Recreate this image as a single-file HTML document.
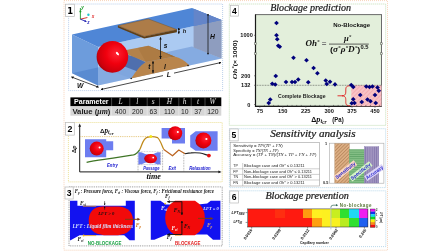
<!DOCTYPE html>
<html><head><meta charset="utf-8"><title>Blockage figure</title>
<style>
html,body{margin:0;padding:0;background:#fff;}
body{width:448px;height:252px;overflow:hidden;}
svg{display:block;filter:blur(0.35px);}
.sb{font-family:"Liberation Sans",sans-serif;font-weight:bold;}
.sr{font-family:"Liberation Sans",sans-serif;}
.si{font-family:"Liberation Serif",serif;font-style:italic;}
.ttl{stroke:#1a1a1a;stroke-width:0.22px;}
.em{stroke:currentColor;stroke-width:0.15px;}
.sbi{font-family:"Liberation Serif",serif;font-style:italic;font-weight:bold;}
</style></head><body>
<svg width="448" height="252" viewBox="0 0 448 252">
<defs>
<pattern id="hpink" width="3" height="3" patternUnits="userSpaceOnUse" patternTransform="rotate(45)"><rect width="3" height="3" fill="#f8c2c6"/><rect width="1" height="3" fill="#f4adb2"/></pattern>
<pattern id="htan" width="2.4" height="2.4" patternUnits="userSpaceOnUse" patternTransform="rotate(45)"><rect width="2.4" height="2.4" fill="#dcae84"/><rect width="0.8" height="2.4" fill="#b98a5e"/></pattern>
<pattern id="hgreen" width="2.2" height="2.2" patternUnits="userSpaceOnUse"><rect width="2.2" height="2.2" fill="#82bd84"/><rect width="2.2" height="0.7" fill="#5fa366"/></pattern>
<pattern id="hpurp" width="2.2" height="2.2" patternUnits="userSpaceOnUse"><rect width="2.2" height="2.2" fill="#a195c0"/><rect width="0.7" height="2.2" fill="#8577ad"/></pattern>
<radialGradient id="sph" cx="0.62" cy="0.4" r="0.72"><stop offset="0" stop-color="#ff2434"/><stop offset="0.45" stop-color="#f0000e"/><stop offset="0.8" stop-color="#cc000c"/><stop offset="1" stop-color="#8a0008"/></radialGradient>
<radialGradient id="hl"><stop offset="0" stop-color="#fff"/><stop offset="0.55" stop-color="#fff" stop-opacity="0.9"/><stop offset="1" stop-color="#ff8080" stop-opacity="0"/></radialGradient>
<radialGradient id="sph2" cx="0.6" cy="0.4" r="0.75"><stop offset="0" stop-color="#ff3030"/><stop offset="0.5" stop-color="#ee0008"/><stop offset="1" stop-color="#a00000"/></radialGradient>
<marker id="ah" viewBox="0 0 6 6" refX="5" refY="3" markerWidth="3.2" markerHeight="3.2" orient="auto-start-reverse"><path d="M0,0 L6,3 L0,6 z" fill="#111"/></marker>
</defs>
<rect x="0" y="0" width="448" height="252" fill="#fff"/>
<!-- outer peach frame -->
<rect x="64" y="0.6" width="323.5" height="249.6" fill="none" stroke="#f5c8a8" stroke-width="0.8" stroke-dasharray="1 1"/>
<!-- panel 1 -->
<g id="p1">
<rect x="68.6" y="4" width="154" height="86.6" fill="none" stroke="#a9c3e6" stroke-width="0.8" stroke-dasharray="1 1"/>
<!-- box: left face -->
<polygon points="72,34.5 98,47 98,85.6 72,73.2" fill="#6d9cdc"/>
<!-- right end face -->

<!-- front face -->
<polygon points="98,47 221.5,20 221.5,58.6 98,85.6" fill="#abcaf2"/>
<!-- interior floor hint -->
<polygon points="98,85.6 221.5,58.6 192,46.6 72,73.2" fill="#2f62b8" opacity="0.3"/>
<polygon points="193.6,9 221.5,20 221.5,58.6 193.6,47.6" fill="#8e9dbf"/>
<!-- top face -->
<polygon points="72,34.5 192,8 221.5,20 98,47" fill="#4f86d6"/>
<polygon points="193.6,8.8 221.5,20 193.6,26.1" fill="#6485c9"/>
<!-- lower bump -->
<polygon points="124,54 134.5,56.6 145.9,62.4 131.2,78.5 118,70" fill="#4f6fae"/>
<polygon points="114,72 124.5,66.6 137.5,71.4 131.2,78.5" fill="#7fa6de"/>
<polygon points="145.9,62 174.4,56.5 148.4,45.8 119.9,51.3" fill="#b4824a"/>
<polygon points="148.4,45.8 174.4,56.5 189.6,65.5 170,56" fill="#8f6230"/>
<path d="M131.2,78.5 Q139,66 145.9,62 L174.4,56.5 Q183,58.5 189.6,65.5 Z" fill="#b9854c"/>
<path d="M145.9,62 L174.4,56.5 L148.4,45.8 L138,48 Z" fill="#a87640" opacity="0.6"/>
<!-- upper plate -->
<polygon points="117.9,27.6 144.2,38.4 176.9,32.2 176.9,29.6 144.2,36.4 117.9,25.7" fill="#5e3f18"/>
<polygon points="117.9,25.7 148.3,18.9 176.9,29.6 144.2,36.4" fill="#ad7c48"/>
<polygon points="117.9,25.7 148.3,18.9 176.9,29.6 144.2,36.4" fill="none" stroke="#7a5526" stroke-width="0.5"/>
<!-- sphere -->
<circle cx="112.4" cy="56.9" r="15.8" fill="url(#sph)"/>
<ellipse cx="117.4" cy="53.6" rx="1.5" ry="2.8" fill="url(#hl)" transform="rotate(-40 117.4 53.6)"/>
<!-- dimension lines -->
<g stroke="#1a1a1a" stroke-width="0.8" fill="none">
<line x1="160.5" y1="37.4" x2="160.5" y2="58.2" marker-start="url(#ah)" marker-end="url(#ah)"/>
<line x1="153" y1="61.4" x2="153" y2="72.4" marker-start="url(#ah)" marker-end="url(#ah)"/>
<line x1="178.8" y1="28" x2="178.8" y2="33.6" marker-start="url(#ah)" marker-end="url(#ah)"/>
<line x1="208" y1="14.6" x2="208" y2="53.8"/>
<line x1="101" y1="89.5" x2="163" y2="75.6" marker-start="url(#ah)"/>
<line x1="174" y1="73.1" x2="221" y2="62.5" marker-end="url(#ah)"/>
<line x1="71.5" y1="77" x2="98.5" y2="87.2" marker-start="url(#ah)" marker-end="url(#ah)"/>
</g>
<g fill="#1a1a1a"><circle cx="208" cy="14.8" r="0.9"/><circle cx="208" cy="53.6" r="0.9"/><circle cx="131.2" cy="78.5" r="0.8"/><circle cx="188" cy="65.6" r="0.8"/><circle cx="153" cy="72.6" r="0.7"/><circle cx="160.5" cy="58.4" r="0.7"/></g>
<g class="sb" font-style="italic" font-size="6.6" fill="#111" text-anchor="middle">
<text x="165.6" y="47.6">s</text><text x="149.4" y="69.4">t</text><text x="165" y="68.6">l</text><text x="184.4" y="32.8" font-size="5.6">h</text>
<text x="212.4" y="38.8" font-size="6.8">H</text><text x="168.8" y="77.4" font-size="6.8">L</text><text x="80.2" y="87.6" font-size="6.8">W</text>
</g>
<!-- axes triad -->
<g stroke-width="0.9" fill="none">
<line x1="80.4" y1="19.2" x2="80.4" y2="8" stroke="#1f9b2e"/>
<line x1="80.4" y1="19.2" x2="87.4" y2="17.5" stroke="#d42020"/>
<line x1="80.4" y1="19.2" x2="85.6" y2="21.2" stroke="#1a1ab0"/>
</g>
<circle cx="80.4" cy="11.4" r="1" fill="#1f9b2e"/>
<circle cx="88.4" cy="14.7" r="1.2" fill="#20c8d0"/>
<path d="M85,20 l2,1.8 l-2.6,0.2z" fill="#1a1ab0"/>
<g class="sb" font-style="italic" font-size="4.6" text-anchor="middle"><text x="82.6" y="8.6" fill="#1f9b2e">y</text><text x="93" y="18" fill="#e03030">x</text><text x="88.4" y="23.6" fill="#2a2ab8">z</text></g>
<!-- number box -->
<rect x="65.6" y="4.2" width="9" height="12.2" fill="#fff" stroke="#b9b9b9" stroke-width="0.7"/>
<text x="70.1" y="13.6" font-family="'DejaVu Sans',sans-serif" font-weight="bold" font-size="8.4" text-anchor="middle" fill="#000">1</text>
<!-- table -->
<rect x="70.4" y="97.4" width="150.9" height="8.9" fill="#000"/>
<rect x="70.4" y="106.3" width="150.9" height="9.4" fill="#d6d6d6"/>
<g stroke-width="0.5"><line x1="111.6" y1="97.4" x2="111.6" y2="106.3" stroke="#8a8a8a"/><line x1="111.6" y1="106.3" x2="111.6" y2="115.7" stroke="#f2f2f2"/><line x1="129.8" y1="97.4" x2="129.8" y2="106.3" stroke="#8a8a8a"/><line x1="129.8" y1="106.3" x2="129.8" y2="115.7" stroke="#f2f2f2"/><line x1="147.2" y1="97.4" x2="147.2" y2="106.3" stroke="#8a8a8a"/><line x1="147.2" y1="106.3" x2="147.2" y2="115.7" stroke="#f2f2f2"/><line x1="159.5" y1="97.4" x2="159.5" y2="106.3" stroke="#8a8a8a"/><line x1="159.5" y1="106.3" x2="159.5" y2="115.7" stroke="#f2f2f2"/><line x1="178.8" y1="97.4" x2="178.8" y2="106.3" stroke="#8a8a8a"/><line x1="178.8" y1="106.3" x2="178.8" y2="115.7" stroke="#f2f2f2"/><line x1="191.2" y1="97.4" x2="191.2" y2="106.3" stroke="#8a8a8a"/><line x1="191.2" y1="106.3" x2="191.2" y2="115.7" stroke="#f2f2f2"/><line x1="205" y1="97.4" x2="205" y2="106.3" stroke="#8a8a8a"/><line x1="205" y1="106.3" x2="205" y2="115.7" stroke="#f2f2f2"/></g>
<text x="74" y="104.3" class="sb" font-size="7" fill="#fff" textLength="34.6" lengthAdjust="spacingAndGlyphs">Parameter</text>
<g class="si" font-size="7.4" fill="#e4e4e4" text-anchor="middle"><text x="120.6" y="104.4">L</text><text x="137.4" y="104.4">l</text><text x="153.2" y="104.2">s</text><text x="169.5" y="104.4">H</text><text x="184.6" y="104.4">h</text><text x="198" y="104.4">t</text><text x="212.6" y="104.4">W</text></g>
<text x="72.4" y="113.8" class="sb" font-size="7" fill="#1a1a1a" textLength="38" lengthAdjust="spacingAndGlyphs">Value (<tspan class="sbi" font-size="7.2">μm</tspan>)</text>
<g class="sr" font-size="6.8" fill="#222" text-anchor="middle"><text x="120.6" y="113.7">400</text><text x="137.6" y="113.7">200</text><text x="153.2" y="113.7">63</text><text x="169.4" y="113.7">110</text><text x="184.8" y="113.7">10</text><text x="198" y="113.7">37</text><text x="212.8" y="113.7">120</text></g>
</g>

<!-- panel 2 -->
<g id="p2">
<rect x="68.4" y="122.5" width="153.8" height="59.4" fill="none" stroke="#e6d878" stroke-width="0.8" stroke-dasharray="1 1"/>
<!-- axes -->
<path d="M79.7,125.5 V171.9 H219.5" fill="none" stroke="#1a1a1a" stroke-width="1"/>
<path d="M79.7,123.6 l-1.4,3.2 h2.8z M221.6,171.9 l-3.2,-1.4 v2.8z" fill="#1a1a1a"/>
<line x1="80.4" y1="136.6" x2="152" y2="136.6" stroke="#dcb454" stroke-width="0.8" stroke-dasharray="0.9 0.9"/>
<g stroke="#555" stroke-width="0.5" stroke-dasharray="0.8 0.8"><path d="M138,171.5 V152 H160.6 V164.6 H138" fill="none"/><line x1="162.6" y1="150" x2="162.6" y2="171.5"/><line x1="183.8" y1="152" x2="183.8" y2="171.5"/></g>
<!-- entry image -->
<path d="M85,139.2 H106.2 V141.2 H113.2 V150.2 H106.2 V157.2 H85z" fill="#6d7df0"/>
<circle cx="96.7" cy="148.6" r="7" fill="url(#sph)"/><circle cx="99.6" cy="147.4" r="1" fill="#fff"/>
<!-- passage image -->
<path d="M138.4,152.3 H160.4 V164.3 H138.4z" fill="#6d7df0"/>
<path d="M141,152 Q149.3,157.4 157.6,152z M141,164.6 Q149.3,159.6 157.6,164.6z" fill="#fff"/>
<ellipse cx="150.6" cy="158.6" rx="6.4" ry="4.7" fill="url(#sph)"/><circle cx="153.2" cy="157.6" r="0.9" fill="#fff"/>
<!-- exit image -->
<path d="M161.6,128 H185 V143.4 H172 V138.4 H161.6z" fill="#6d7df0"/>
<circle cx="175.2" cy="133.2" r="7" fill="url(#sph)"/><circle cx="177.8" cy="132" r="1" fill="#fff"/>
<!-- relaxation image -->
<path d="M190.2,135.6 L195.6,131.2 H217.6 V150.8 H195.6 L190.2,147z" fill="#6d7df0"/>
<circle cx="203.4" cy="140.4" r="8" fill="url(#sph)"/><circle cx="206.4" cy="139" r="1.1" fill="#fff"/>
<!-- curve -->
<path d="M86.6,162.4 C95,160.3 104,159.6 113,158.2 C121,156.8 127,155.8 133.5,154.8 C136.5,154.1 138,152 139.8,149.5" fill="none" stroke="#3f7526" stroke-width="1.2"/>
<path d="M139.8,149.5 C142.5,144 143,138.8 147,137.4 C150,136.4 155,136.6 157.6,137.6 C160.4,140 162,146 163.8,149.5" fill="none" stroke="#c08a1a" stroke-width="1.25"/>
<path d="M163.8,149.5 L172.5,155.8 L178.8,150 L185,153.8" fill="none" stroke="#bc6420" stroke-width="1.2" stroke-linejoin="round"/>
<path d="M185,153.8 C187,153.4 189,153 191,152.9 C195,152.6 198,152.8 200,153 C203,153.6 206,154.8 208.8,155.6" fill="none" stroke="#222" stroke-width="1.1"/>
<circle cx="150.8" cy="136.6" r="1.5" fill="#f4e61a"/>
<circle cx="208.9" cy="155.6" r="1.9" fill="#e81010"/>
<!-- labels -->
<text x="100" y="132.6" class="sbi" font-size="7.2" fill="#111"><tspan class="sb" font-style="normal" font-size="6.2">Δ</tspan>p<tspan font-size="5.6" dy="1.5">t</tspan><tspan font-size="4.6" dy="1.1">cr</tspan></text>
<text transform="translate(75.8,153) rotate(-90)" class="sbi" font-size="6.6" fill="#111"><tspan class="sb" font-style="normal" font-size="5.8">Δ</tspan>p</text>
<text x="146.4" y="179.2" class="sbi" font-size="7.2" fill="#111" textLength="14.6" lengthAdjust="spacingAndGlyphs">time</text>
<g class="sb" font-style="italic" font-size="5" fill="#2222d0">
<text x="107" y="167" textLength="10.8" lengthAdjust="spacingAndGlyphs">Entry</text><text x="143.2" y="169.8" textLength="16.2" lengthAdjust="spacingAndGlyphs">Passage</text><text x="168.4" y="169.8" textLength="7.6" lengthAdjust="spacingAndGlyphs">Exit</text><text x="189.2" y="169.8" textLength="21.4" lengthAdjust="spacingAndGlyphs">Relaxation</text></g>
<!-- number box -->
<rect x="65.6" y="122.6" width="8.7" height="12.5" fill="#fff" stroke="#b9b9b9" stroke-width="0.7"/>
<text x="70" y="132.2" class="sb" font-size="8.8" text-anchor="middle" fill="#000">2</text>
</g>

<!-- panel 3 -->
<g id="p3">
<rect x="69" y="186.9" width="153.2" height="59" fill="none" stroke="#666" stroke-width="0.7" stroke-dasharray="0.9 0.9"/>
<text x="74.8" y="192.8" class="sbi" font-size="5.5" fill="#111" textLength="139" lengthAdjust="spacingAndGlyphs">F<tspan font-size="3.7" dy="1">p</tspan><tspan dy="-1"> : Pressure force, F</tspan><tspan font-size="3.7" dy="1">vi</tspan><tspan dy="-1"> : Viscous force, F</tspan><tspan font-size="3.7" dy="1">f</tspan><tspan dy="-1"> : Frictional resistance force</tspan></text>
<!-- left shape -->
<path d="M70,200.8 H77.4 V205.7 H125.8 V200.8 H134.8 V240.2 H129.5 L124.2,235.3 H79.6 L70.6,240.2 H70z" fill="#1212f0"/>
<path d="M102,206.4 H119 Q133,208 133,220.8 Q133,233.6 118,235.2 H104 Q88.7,233.8 88.7,220.8 Q88.7,207.6 102,206.4z" fill="#f20a0a"/>
<line x1="82.9" y1="206.2" x2="96.2" y2="206.2" stroke="#f0a020" stroke-width="0.8"/>
<line x1="83.4" y1="235.6" x2="96.2" y2="235.6" stroke="#f0a020" stroke-width="0.8"/>
<circle cx="83.6" cy="235.5" r="0.9" fill="#f0c020"/>
<line x1="104.6" y1="201.2" x2="104.6" y2="205" stroke="#111" stroke-width="0.6" marker-end="url(#ah)"/>
<line x1="104.6" y1="209.6" x2="104.6" y2="206.6" stroke="#111" stroke-width="0.6" marker-end="url(#ah)"/>
<line x1="125" y1="219.3" x2="138" y2="219.3" stroke="#7c3e12" stroke-width="1"/>
<path d="M140.4,219.3 l-3,-1.5 v3z" fill="#7c3e12"/>
<text x="98.2" y="215.2" class="sbi" font-size="5" fill="#111" textLength="16.2" lengthAdjust="spacingAndGlyphs">LFT &gt; 0</text>
<text x="72.4" y="228.4" class="sbi" font-size="5.3" fill="#d4e2ff" textLength="60.6" lengthAdjust="spacingAndGlyphs">LFT : Liquid film thickness</text>
<text x="80" y="204.8" class="sbi" font-size="5.4" fill="#111">F<tspan font-size="3.2" dy="1">vi</tspan></text>
<text x="77.4" y="240.6" class="sbi" font-size="5.4" fill="#111">F<tspan font-size="3.2" dy="1">vi</tspan></text>
<text x="135.8" y="226.8" class="sbi" font-size="5.4" fill="#d07014">F<tspan font-size="3.2" dy="1">p</tspan></text>
<text x="87.8" y="245.3" class="sb" font-size="4.8" fill="#16a040" textLength="33.6" lengthAdjust="spacingAndGlyphs">NO-BLOCKAGE</text>
<!-- right shape -->
<path d="M150.8,200.7 H160.5 L165.8,204.6 H198 L207.2,203.5 L210.7,200.7 H220.4 V239.8 H213 L207.2,234.5 H167 L154.3,239.8 H150.8z" fill="#1212f0"/>
<path d="M175,200.7 H195 A19.9,19.9 0 0 1 194.8,235.2 H175.2 A19.9,19.9 0 0 1 175,200.7z" fill="#f20a0a"/>
<circle cx="165.2" cy="203.6" r="0.9" fill="#f0c020"/>
<line x1="175" y1="235" x2="181" y2="235" stroke="#f0b020" stroke-width="0.9"/>
<g stroke="#111" stroke-width="0.9" fill="none">
<line x1="181.9" y1="201.7" x2="167.4" y2="201.7" marker-end="url(#ah)"/>
<line x1="181.9" y1="201.5" x2="181.9" y2="214.8" marker-end="url(#ah)"/>
<line x1="181.9" y1="234.8" x2="181.9" y2="221" marker-end="url(#ah)"/>
<line x1="181.9" y1="234.5" x2="167.4" y2="234.5" marker-end="url(#ah)"/>
</g>
<line x1="198" y1="218.4" x2="211" y2="218.4" stroke="#7c3e12" stroke-width="1"/>
<path d="M213.4,218.4 l-3,-1.5 v3z" fill="#7c3e12"/>
<text x="165" y="197.8" class="sbi" font-size="5.4" fill="#111">F<tspan font-size="3.5" dy="1">f</tspan></text>
<text x="166.8" y="239.4" class="sbi" font-size="5.4" fill="#111">F<tspan font-size="3.5" dy="1">f</tspan></text>
<text x="161" y="210.2" class="sbi" font-size="5.4" fill="#f2f4ff">F<tspan font-size="3.5" dy="1">vi</tspan></text>
<text x="171.4" y="230.4" class="sbi" font-size="5.4" fill="#fff2f2">F<tspan font-size="3.5" dy="1">vi</tspan></text>
<text x="173.8" y="212" class="sbi" font-size="5.4" fill="#111">F<tspan font-size="3.5" dy="1">N</tspan></text>
<text x="184" y="228.2" class="sbi" font-size="5.4" fill="#111">F<tspan font-size="3.5" dy="1">N</tspan></text>
<text x="207" y="227" class="sbi" font-size="5.4" fill="#e8a868">F<tspan font-size="3.5" dy="1">p</tspan></text>
<text x="203.3" y="210.2" class="sbi" font-size="5" fill="#e4eaff" textLength="15.4" lengthAdjust="spacingAndGlyphs">LFT = 0</text>
<text x="175" y="244.8" class="sb" font-size="4.8" fill="#e01818" textLength="25.4" lengthAdjust="spacingAndGlyphs">BLOCKAGE</text>
<!-- number box -->
<rect x="65" y="187" width="8.2" height="12" fill="#fff" stroke="#b9b9b9" stroke-width="0.7"/>
<text x="69.1" y="196.4" class="sb" font-size="8.6" text-anchor="middle" fill="#000">3</text>
</g>

<!-- panel 4 -->
<g id="p4">
<rect x="229.3" y="4" width="156.4" height="121.4" fill="none" stroke="#b5d6a4" stroke-width="0.8" stroke-dasharray="1 1"/>
<rect x="230.3" y="5.3" width="8.2" height="10.8" fill="#fff" stroke="#b9b9b9" stroke-width="0.7"/>
<text x="234.4" y="13.6" class="sb" font-size="8.6" text-anchor="middle" fill="#000">4</text>
<text x="310.6" y="10.7" class="si ttl" font-size="9.4" text-anchor="middle" fill="#1a1a1a" textLength="80.8" lengthAdjust="spacingAndGlyphs">Blockage prediction</text>
<rect x="255.5" y="14.6" width="126" height="91.7" fill="#e3efdb" stroke="#6b6b6b" stroke-width="1"/>
<path d="M255.5,14.6 V106.4 H381.5" fill="none" stroke="#1a1a1a" stroke-width="1.2"/>
<rect x="351.3" y="85.3" width="30.2" height="21" fill="url(#hpink)"/>
<line x1="255.5" y1="85.3" x2="381.5" y2="85.3" stroke="#333" stroke-width="0.6" stroke-dasharray="0.8 0.8"/>
<!-- ticks -->
<g stroke="#444" stroke-width="0.6">
<line x1="254" y1="35.3" x2="255.5" y2="35.3"/><line x1="254" y1="75.8" x2="255.5" y2="75.8"/><line x1="254" y1="85.3" x2="255.5" y2="85.3"/><line x1="254" y1="104.5" x2="255.5" y2="104.5"/>
<line x1="259.8" y1="106.3" x2="259.8" y2="107.8"/><line x1="282.8" y1="106.3" x2="282.8" y2="107.8"/><line x1="305.8" y1="106.3" x2="305.8" y2="107.8"/><line x1="329" y1="106.3" x2="329" y2="107.8"/><line x1="352" y1="106.3" x2="352" y2="107.8"/><line x1="375" y1="106.3" x2="375" y2="107.8"/>
</g>
<g fill="#e3efdb" stroke="#555" stroke-width="0.5">
<rect x="254.5" y="42.8" width="2" height="1.8"/><rect x="254.5" y="52.8" width="2" height="1.8"/>
<rect x="380.5" y="42.8" width="2" height="1.8"/><rect x="380.5" y="52.8" width="2" height="1.8"/>
</g>
<g class="sb" font-size="5.6" fill="#111" text-anchor="end">
<text x="252.8" y="37.4">1000</text><text x="250.4" y="77.8">200</text><text x="250.4" y="87.3">132</text><text x="250.4" y="106.5">0</text>
</g>
<g class="sb" font-size="5.7" fill="#111" text-anchor="middle">
<text x="260" y="113.3">75</text><text x="282.8" y="113.3">150</text><text x="305.8" y="113.3">225</text><text x="329.2" y="113.3">300</text><text x="352" y="113.3">375</text><text x="375" y="113.3">450</text>
</g>
<text transform="translate(237.4,79.2) rotate(-90)" class="sbi" font-size="7" fill="#111" textLength="39" lengthAdjust="spacingAndGlyphs">Oh<tspan font-size="4.4" dy="-2.4">*</tspan><tspan dy="2.4" class="sb" font-style="normal" font-size="6">(× 1000)</tspan></text>
<text x="311.2" y="121.7" class="sbi" font-size="8.4" fill="#111"><tspan class="sb" font-style="normal" font-size="7">Δ</tspan>p<tspan font-size="6.4" dy="1.4">t</tspan><tspan font-size="5.2" dy="1.3">cr</tspan></text>
<text x="332.3" y="121.8" class="sb" font-size="7.4" fill="#111" textLength="11.4" lengthAdjust="spacingAndGlyphs">(Pa)</text>
<text x="333.2" y="27.3" class="sb" font-size="5.6" fill="#111" textLength="37" lengthAdjust="spacingAndGlyphs">No-Blockage</text>
<text x="278" y="97.9" class="sb" font-size="5" fill="#222" textLength="47.5" lengthAdjust="spacingAndGlyphs">Complete Blockage</text>
<g stroke="#333" stroke-width="0.5"><line x1="264.41" y1="104.9" x2="264.41" y2="106.3"/><line x1="269.02" y1="104.9" x2="269.02" y2="106.3"/><line x1="273.63" y1="104.9" x2="273.63" y2="106.3"/><line x1="278.24" y1="104.9" x2="278.24" y2="106.3"/><line x1="287.46" y1="104.9" x2="287.46" y2="106.3"/><line x1="292.07" y1="104.9" x2="292.07" y2="106.3"/><line x1="296.68" y1="104.9" x2="296.68" y2="106.3"/><line x1="301.29" y1="104.9" x2="301.29" y2="106.3"/><line x1="310.51" y1="104.9" x2="310.51" y2="106.3"/><line x1="315.12" y1="104.9" x2="315.12" y2="106.3"/><line x1="319.73" y1="104.9" x2="319.73" y2="106.3"/><line x1="324.34" y1="104.9" x2="324.34" y2="106.3"/><line x1="333.56" y1="104.9" x2="333.56" y2="106.3"/><line x1="338.17" y1="104.9" x2="338.17" y2="106.3"/><line x1="342.78" y1="104.9" x2="342.78" y2="106.3"/><line x1="347.39" y1="104.9" x2="347.39" y2="106.3"/><line x1="356.61" y1="104.9" x2="356.61" y2="106.3"/><line x1="361.22" y1="104.9" x2="361.22" y2="106.3"/><line x1="365.83" y1="104.9" x2="365.83" y2="106.3"/><line x1="370.44" y1="104.9" x2="370.44" y2="106.3"/><line x1="379.66" y1="104.9" x2="379.66" y2="106.3"/></g>
<!-- formula -->
<text x="305.4" y="46.2" class="sbi" font-size="9" fill="#111">Oh<tspan font-size="5" dy="-3">*</tspan></text>
<text x="321.8" y="46.4" class="sb" font-size="8" fill="#777">=</text>
<line x1="329" y1="44.1" x2="368.8" y2="44.1" stroke="#222" stroke-width="0.7"/>
<text x="344" y="40.6" class="sbi" font-size="8.6" fill="#111">μ<tspan font-size="5" dy="-3">*</tspan></text>
<text x="330" y="52" class="sbi" font-size="8" fill="#111" textLength="38.4" lengthAdjust="spacingAndGlyphs"><tspan class="sr" font-style="normal">(</tspan>σ<tspan font-size="4.6" dy="-2.8">*</tspan><tspan dy="2.8">ρ</tspan><tspan font-size="4.6" dy="-2.8">*</tspan><tspan dy="2.8">D</tspan><tspan font-size="4.6" dy="-2.8">*</tspan><tspan dy="2.8" class="sr" font-style="normal">)</tspan><tspan font-size="5" dy="-3" class="sb" font-style="normal">0.5</tspan></text>
<!-- brace -->
<path d="M350,85.8 C345.5,85.8 345.8,88 345.8,91 C345.8,94 345.5,95.6 342,95.8 C345.5,96 345.8,97.6 345.8,100.6 C345.8,103.6 345.5,105.8 350,105.8" fill="none" stroke="#e02020" stroke-width="0.9"/>
<line x1="337.5" y1="95.8" x2="342.5" y2="95.8" stroke="#e02020" stroke-width="0.9"/>
<!-- data -->
<g fill="#00007c" id="pts">
<path d="M276.50,20.65 L278.85,23.00 L276.50,25.35 L274.15,23.00z"/>
<path d="M276.50,32.90 L278.85,35.25 L276.50,37.60 L274.15,35.25z"/>
<path d="M277.25,36.90 L279.60,39.25 L277.25,41.60 L274.90,39.25z"/>
<path d="M278.25,43.40 L280.60,45.75 L278.25,48.10 L275.90,45.75z"/>
<path d="M279.75,44.40 L282.10,46.75 L279.75,49.10 L277.40,46.75z"/>
<path d="M293.50,55.40 L295.85,57.75 L293.50,60.10 L291.15,57.75z"/>
<path d="M306.50,57.90 L308.85,60.25 L306.50,62.60 L304.15,60.25z"/>
<path d="M313.60,65.65 L315.95,68.00 L313.60,70.35 L311.25,68.00z"/>
<path d="M317.40,70.90 L319.75,73.25 L317.40,75.60 L315.05,73.25z"/>
<path d="M275.75,73.65 L278.10,76.00 L275.75,78.35 L273.40,76.00z"/>
<path d="M272.25,81.40 L274.60,83.75 L272.25,86.10 L269.90,83.75z"/>
<path d="M275.25,82.15 L277.60,84.50 L275.25,86.85 L272.90,84.50z"/>
<path d="M286.00,79.65 L288.35,82.00 L286.00,84.35 L283.65,82.00z"/>
<path d="M292.00,79.65 L294.35,82.00 L292.00,84.35 L289.65,82.00z"/>
<path d="M295.00,79.65 L297.35,82.00 L295.00,84.35 L292.65,82.00z"/>
<path d="M298.25,77.15 L300.60,79.50 L298.25,81.85 L295.90,79.50z"/>
<path d="M308.25,79.90 L310.60,82.25 L308.25,84.60 L305.90,82.25z"/>
<path d="M325.75,78.15 L328.10,80.50 L325.75,82.85 L323.40,80.50z"/>
<path d="M326.75,81.65 L329.10,84.00 L326.75,86.35 L324.40,84.00z"/>
<path d="M330.00,79.40 L332.35,81.75 L330.00,84.10 L327.65,81.75z"/>
<path d="M335.00,82.05 L337.35,84.40 L335.00,86.75 L332.65,84.40z"/>
<path d="M268.75,100.65 L271.10,103.00 L268.75,105.35 L266.40,103.00z"/>
<path d="M270.25,97.15 L272.60,99.50 L270.25,101.85 L267.90,99.50z"/>
<path d="M351.25,82.65 L353.60,85.00 L351.25,87.35 L348.90,85.00z"/>
<path d="M353.25,84.65 L355.60,87.00 L353.25,89.35 L350.90,87.00z"/>
<path d="M366.25,84.15 L368.60,86.50 L366.25,88.85 L363.90,86.50z"/>
<path d="M369.50,84.65 L371.85,87.00 L369.50,89.35 L367.15,87.00z"/>
<path d="M372.50,84.15 L374.85,86.50 L372.50,88.85 L370.15,86.50z"/>
<path d="M377.50,85.15 L379.85,87.50 L377.50,89.85 L375.15,87.50z"/>
<path d="M378.75,88.40 L381.10,90.75 L378.75,93.10 L376.40,90.75z"/>
<path d="M360.25,92.65 L362.60,95.00 L360.25,97.35 L357.90,95.00z"/>
<path d="M375.00,92.65 L377.35,95.00 L375.00,97.35 L372.65,95.00z"/>
<path d="M353.25,96.90 L355.60,99.25 L353.25,101.60 L350.90,99.25z"/>
<path d="M367.50,97.15 L369.85,99.50 L367.50,101.85 L365.15,99.50z"/>
<path d="M370.50,98.90 L372.85,101.25 L370.50,103.60 L368.15,101.25z"/>
<path d="M361.75,99.65 L364.10,102.00 L361.75,104.35 L359.40,102.00z"/>
<path d="M351.75,100.90 L354.10,103.25 L351.75,105.60 L349.40,103.25z"/>
<path d="M354.50,100.65 L356.85,103.00 L354.50,105.35 L352.15,103.00z"/>
<path d="M375.75,100.65 L378.10,103.00 L375.75,105.35 L373.40,103.00z"/>
</g>
</g>

<!-- panel 5 -->
<g id="p5">
<rect x="229.4" y="128.7" width="156.2" height="58.9" fill="none" stroke="#a8cfe6" stroke-width="0.8" stroke-dasharray="1 1"/>
<text x="270.2" y="136.6" class="si ttl" font-size="9.6" fill="#222" textLength="85.4" lengthAdjust="spacingAndGlyphs">Sensitivity analysis</text>
<rect x="230.2" y="142.6" width="89.4" height="43.4" fill="#fff" stroke="#a0a0a0" stroke-width="0.6"/>
<g class="sr" font-size="3.7" fill="#222">
<text x="233.2" y="147" textLength="49.6" lengthAdjust="spacingAndGlyphs">Sensitivity = <tspan class="si">TP</tspan>/(<tspan class="si">TP</tspan> + <tspan class="si">FN</tspan>)</text>
<text x="233.2" y="151.5" textLength="45.4" lengthAdjust="spacingAndGlyphs">Specificity = <tspan class="si">TN</tspan>/(<tspan class="si">TN</tspan> + <tspan class="si">FP</tspan>)</text>
<text x="233.2" y="155.9" textLength="83.2" lengthAdjust="spacingAndGlyphs">Accuracy = (<tspan class="si">TP</tspan> + <tspan class="si">TN</tspan>)/(<tspan class="si">TN</tspan> + <tspan class="si">TP</tspan> + <tspan class="si">FN</tspan> + <tspan class="si">FP</tspan>)</text>
</g>
<g stroke="#a0a0a0" stroke-width="0.5"><line x1="230.2" y1="168.8" x2="319.6" y2="168.8"/><line x1="230.2" y1="174.4" x2="319.6" y2="174.4"/><line x1="230.2" y1="180" x2="319.6" y2="180"/><line x1="242.7" y1="163" x2="242.7" y2="186"/></g>
<g class="sr" font-size="3.6" fill="#222">
<text x="233.2" y="167.2">TP</text><text x="233.2" y="172.8">FP</text><text x="233.2" y="178.4">TN</text><text x="233.2" y="184.4">FN</text>
<text x="244" y="167.2" textLength="60.6" lengthAdjust="spacingAndGlyphs">Blockage case and <tspan class="si">Oh</tspan>* ≤ 0.13211</text>
<text x="244" y="172.8" textLength="68" lengthAdjust="spacingAndGlyphs">Non-blockage case and <tspan class="si">Oh</tspan>* ≤ 0.13211</text>
<text x="244" y="178.4" textLength="68" lengthAdjust="spacingAndGlyphs">Non-blockage case and <tspan class="si">Oh</tspan>* &gt; 0.13211</text>
<text x="244" y="184.4" textLength="60.6" lengthAdjust="spacingAndGlyphs">Blockage case and <tspan class="si">Oh</tspan>* &gt; 0.13211</text>
</g>
<!-- bar chart -->
<rect x="329.3" y="143.2" width="54.6" height="40" fill="#fff" stroke="#a8a8a8" stroke-width="0.6"/>
<rect x="334.8" y="143.6" width="14.5" height="39.4" fill="url(#htan)" stroke="#b08860" stroke-width="0.4"/>
<rect x="349.3" y="149.4" width="15.1" height="33.6" fill="url(#hgreen)" stroke="#62a468" stroke-width="0.4"/>
<rect x="364.4" y="146.7" width="14.4" height="36.3" fill="url(#hpurp)" stroke="#8577ad" stroke-width="0.4"/>
<g class="sb" font-size="4.9" fill="#1c1ccc" text-anchor="middle">
<g transform="translate(345.4,170.5) rotate(-38)"><rect x="-12.8" y="-2.9" width="25.6" height="5.8" fill="#fbd9c2"/><text x="0" y="1.7" textLength="24" lengthAdjust="spacingAndGlyphs">Sensitivity</text></g>
<g transform="translate(360.7,171.4) rotate(-38)"><rect x="-12.8" y="-2.9" width="25.6" height="5.8" fill="#d6f4c6"/><text x="0" y="1.7" textLength="24" lengthAdjust="spacingAndGlyphs">Specificity</text></g>
<g transform="translate(374.5,172.5) rotate(-35)"><rect x="-10.6" y="-2.9" width="21.2" height="5.8" fill="#ded6f6"/><text x="0" y="1.7" textLength="19.8" lengthAdjust="spacingAndGlyphs">Accuracy</text></g>
</g>
<g class="sb" font-size="3.8" fill="#222" text-anchor="end"><text x="327" y="145.2">1</text><text x="328.4" y="184.2">0.5</text></g>
<rect x="229.8" y="128.9" width="8.4" height="12" fill="#fff" stroke="#b9b9b9" stroke-width="0.7"/>
<text x="234" y="138.4" class="sb" font-size="8.6" text-anchor="middle" fill="#000">5</text>
</g>

<!-- panel 6 -->
<g id="p6">
<rect x="229.4" y="190.8" width="156.4" height="55.8" fill="none" stroke="#a8cfe6" stroke-width="0.8" stroke-dasharray="1 1"/>
<text x="265.4" y="199.4" class="si ttl" font-size="9.6" fill="#1a1a1a" textLength="83.4" lengthAdjust="spacingAndGlyphs">Blockage prevention</text>
<g id="hm"><g shape-rendering="crispEdges"><rect x="247.60" y="208.9" width="9.85" height="9.4" fill="#ff1a10"/><rect x="247.60" y="218" width="9.85" height="9" fill="#ff1a10"/>
<rect x="256.85" y="208.9" width="9.85" height="9.4" fill="#ff1a10"/><rect x="256.85" y="218" width="9.85" height="9" fill="#ff1a10"/>
<rect x="266.11" y="208.9" width="9.85" height="9.4" fill="#ff1a10"/><rect x="266.11" y="218" width="9.85" height="9" fill="#ff1a10"/>
<rect x="275.36" y="208.9" width="9.85" height="9.4" fill="#ff2e10"/><rect x="275.36" y="218" width="9.85" height="9" fill="#ff1a10"/>
<rect x="284.62" y="208.9" width="9.85" height="9.4" fill="#ff1a10"/><rect x="284.62" y="218" width="9.85" height="9" fill="#ff1a10"/>
<rect x="293.87" y="208.9" width="9.85" height="9.4" fill="#ff1a10"/><rect x="293.87" y="218" width="9.85" height="9" fill="#ff1a10"/>
<rect x="303.12" y="208.9" width="9.85" height="9.4" fill="#ff9a10"/><rect x="303.12" y="218" width="9.85" height="9" fill="#ff1a10"/>
<rect x="312.38" y="208.9" width="9.85" height="9.4" fill="#fff020"/><rect x="312.38" y="218" width="9.85" height="9" fill="#ffa010"/>
<rect x="321.63" y="208.9" width="9.85" height="9.4" fill="#fdf020"/><rect x="321.63" y="218" width="9.85" height="9" fill="#fdf020"/>
<rect x="330.88" y="208.9" width="9.85" height="9.4" fill="#c8ee20"/><rect x="330.88" y="218" width="9.85" height="9" fill="#f8f020"/>
<rect x="340.14" y="208.9" width="9.85" height="9.4" fill="#30e030"/><rect x="340.14" y="218" width="9.85" height="9" fill="#b8ec20"/>
<rect x="349.39" y="208.9" width="9.85" height="9.4" fill="#20d8f4"/><rect x="349.39" y="218" width="9.85" height="9" fill="#30e030"/>
<rect x="358.65" y="208.9" width="9.25" height="9.4" fill="#f020f0"/><rect x="358.65" y="218" width="9.25" height="9" fill="#2060f0"/>
</g><rect x="247.6" y="208.9" width="120.3" height="18.1" fill="none" stroke="#222" stroke-width="0.5"/></g>
<line x1="330.9" y1="207" x2="330.9" y2="229.4" stroke="#a8c0d8" stroke-width="0.8"/>
<path d="M330.9,207.4 Q330.9,205.2 333,205.2 H336.4" fill="none" stroke="#2f6454" stroke-width="0.7"/>
<path d="M338.2,205.2 l-2.2,-1.1 v2.2z" fill="#2f6454"/>
<text x="339.8" y="206.6" class="sb" font-size="4.5" fill="#5c7a3c" textLength="31.8" lengthAdjust="spacing">No-blockage</text>
<g class="sb" font-style="italic" font-size="4.3" fill="#111"><text x="231.6" y="213.6" textLength="12.8" lengthAdjust="spacingAndGlyphs">LFT<tspan font-size="2.9" dy="0.9">NSM</tspan></text><text x="233.6" y="223.4" textLength="8.4" lengthAdjust="spacingAndGlyphs">LFT<tspan font-size="2.9" dy="0.9">IW</tspan></text></g>
<g stroke="#222" stroke-width="0.5"><line x1="245.6" y1="212.6" x2="247.4" y2="212.6"/><line x1="245.6" y1="222.4" x2="247.4" y2="222.4"/><line x1="251.7" y1="227" x2="251.7" y2="228.6"/><line x1="279.8" y1="227" x2="279.8" y2="228.6"/><line x1="307.6" y1="227" x2="307.6" y2="228.6"/><line x1="336" y1="227" x2="336" y2="228.6"/><line x1="364.4" y1="227" x2="364.4" y2="228.6"/></g>
<g class="sb" font-size="4" fill="#111" text-anchor="end">
<text transform="translate(252.6,230.2) rotate(-54)">0.0016</text>
<text transform="translate(281.09999999999997,230.2) rotate(-54)">0.0289</text>
<text transform="translate(309.59999999999997,230.2) rotate(-54)">0.0112</text>
<text transform="translate(338.09999999999997,230.2) rotate(-54)">0.0562</text>
<text transform="translate(366.59999999999997,230.2) rotate(-54)">0.245</text>
</g>
<text x="300" y="243.6" class="sb" font-size="4.1" fill="#111" textLength="28.8" lengthAdjust="spacingAndGlyphs">Capillary number</text>
<!-- colorbar -->
<g>
<rect x="370.2" y="209" width="4.9" height="2.7" fill="#f010f0"/><rect x="370.2" y="211.6" width="4.9" height="2.7" fill="#1030f0"/><rect x="370.2" y="214.2" width="4.9" height="2.7" fill="#10d8f0"/><rect x="370.2" y="216.8" width="4.9" height="2.8" fill="#10d820"/><rect x="370.2" y="219.5" width="4.9" height="2.7" fill="#f8f010"/><rect x="370.2" y="222.1" width="4.9" height="2.7" fill="#f89010"/><rect x="370.2" y="224.7" width="4.9" height="2.7" fill="#f01010"/>
<rect x="370.2" y="209" width="4.9" height="18.4" fill="none" stroke="#333" stroke-width="0.4"/>
</g>
<g class="sb" font-size="2.6" fill="#222"><text x="376" y="210.8">2</text><text x="376" y="216.4">1</text><text x="376" y="222">–</text><text x="376" y="227.6">0</text></g>
<text transform="translate(380.4,211.7) rotate(90)" class="sb" font-size="3.2" fill="#222" textLength="11.2" lengthAdjust="spacingAndGlyphs">LFT (μm)</text>
<rect x="229.8" y="191" width="8.6" height="12" fill="#fff" stroke="#b9b9b9" stroke-width="0.7"/>
<text x="234.1" y="200.4" class="sb" font-size="8.6" text-anchor="middle" fill="#000">6</text>
</g>


</svg>
</body></html>
